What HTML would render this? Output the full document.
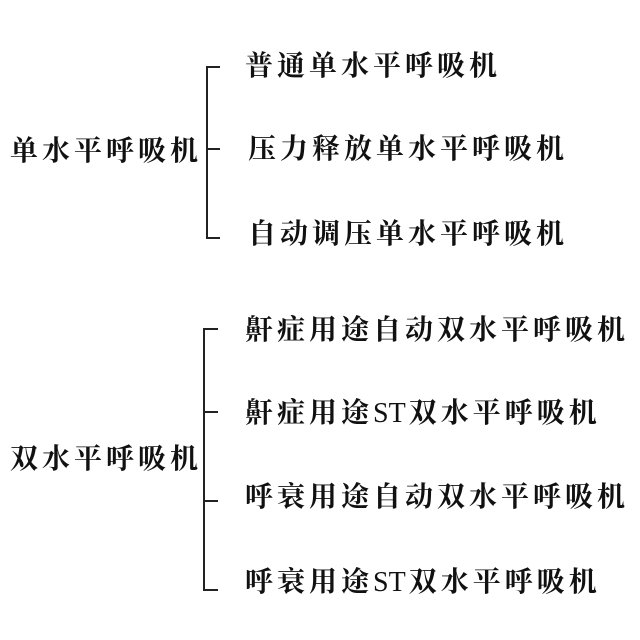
<!DOCTYPE html>
<html><head><meta charset="utf-8"><style>
body{margin:0;width:640px;height:640px;background:#fff;position:relative;overflow:hidden}
.t{position:absolute;font-family:"Liberation Serif","Noto Serif CJK SC",serif;font-size:28px;font-weight:bold;color:#111;letter-spacing:4px;line-height:32px;white-space:nowrap}
.t span{font-weight:normal;letter-spacing:0;margin-right:3px}
.l{position:absolute;background:#222}
</style></head><body>
<div class="t" style="left:10px;top:136px">单水平呼吸机</div>
<div class="t" style="left:10px;top:444px">双水平呼吸机</div>
<div class="l" style="left:206px;top:66px;width:2px;height:173px"></div>
<div class="l" style="left:206px;top:66px;width:14px;height:2px"></div>
<div class="l" style="left:206px;top:148px;width:14px;height:2px"></div>
<div class="l" style="left:206px;top:237px;width:14px;height:2px"></div>
<div class="l" style="left:203px;top:328px;width:2px;height:263px"></div>
<div class="l" style="left:203px;top:328px;width:15px;height:2px"></div>
<div class="l" style="left:203px;top:411px;width:15px;height:2px"></div>
<div class="l" style="left:203px;top:500px;width:15px;height:2px"></div>
<div class="l" style="left:203px;top:589px;width:15px;height:2px"></div>
<div class="t" style="left:245px;top:51px">普通单水平呼吸机</div>
<div class="t" style="left:248px;top:134px">压力释放单水平呼吸机</div>
<div class="t" style="left:248px;top:219px">自动调压单水平呼吸机</div>
<div class="t" style="left:245px;top:315px">鼾症用途自动双水平呼吸机</div>
<div class="t" style="left:245px;top:398px">鼾症用途<span>ST</span>双水平呼吸机</div>
<div class="t" style="left:245px;top:482px">呼衰用途自动双水平呼吸机</div>
<div class="t" style="left:245px;top:567px">呼衰用途<span>ST</span>双水平呼吸机</div>
</body></html>
